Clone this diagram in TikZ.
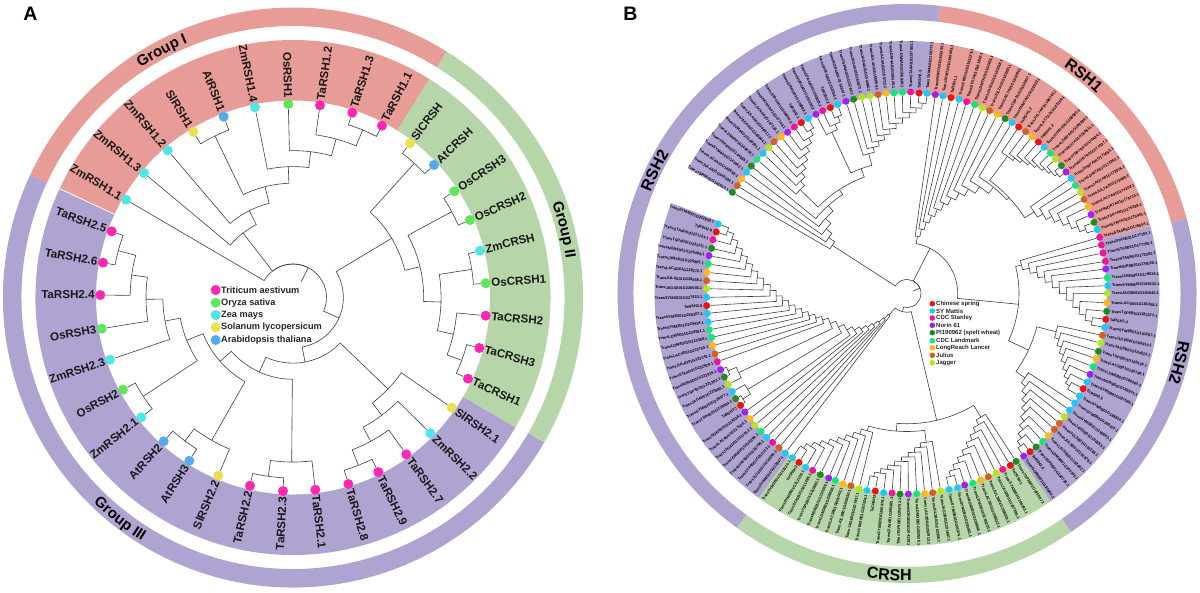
\documentclass[tikz,border=0pt]{standalone}
\usepackage{fontspec}
\setmainfont{Liberation Sans}
\usetikzlibrary{calc,decorations.text}
\pgfdeclarelayer{bandl}\pgfdeclarelayer{tree}
\pgfsetlayers{bandl,tree,main}
\definecolor{bandR}{HTML}{E89C98}
\definecolor{bandG}{HTML}{B6D6A9}
\definecolor{bandV}{HTML}{AEA3D1}
\definecolor{ata}{HTML}{FF26B4}
\definecolor{aos}{HTML}{5FE65A}
\definecolor{azm}{HTML}{4FE6E6}
\definecolor{asl}{HTML}{E8E050}
\definecolor{aat}{HTML}{55AAEE}
\definecolor{cR}{HTML}{F01010}
\definecolor{cC}{HTML}{1EC8F5}
\definecolor{cP}{HTML}{F0149B}
\definecolor{cV}{HTML}{A020F0}
\definecolor{cD}{HTML}{1E8C1E}
\definecolor{cG}{HTML}{14E678}
\definecolor{cO}{HTML}{FFB914}
\definecolor{cB}{HTML}{D2601E}
\definecolor{cL}{HTML}{B4E61E}
\tikzset{
 x=1pt,y=1pt,
 branch/.style={draw=black!75,line width=0.6pt},
 adot/.style={circle,inner sep=0pt,minimum size=10pt},
 bdot/.style={circle,inner sep=0pt,minimum size=7pt},
 alab/.style={inner sep=0pt,font=\fontsize{11.6}{12}\selectfont\bfseries,text=black!90},
 blab/.style={inner sep=0pt,font=\fontsize{3.9}{4}\selectfont\bfseries,text=black},
 alegend/.style={inner sep=0pt,anchor=west,font=\fontsize{9.2}{10}\selectfont\bfseries,text=black!85},
 blegend/.style={inner sep=0pt,anchor=west,font=\fontsize{6}{7}\selectfont\bfseries,text=black!85},
 panel/.style={inner sep=0pt,font=\fontsize{19.5}{20}\selectfont\bfseries},
}
% polar edge: arc on the parent's radius round (C), then radial to the child
\newcommand\pe[2]{\draw[branch] let \p1=($(#2)-(C)$),\p2=($(#1)-(C)$),\n1={atan2(\y1,\x1)},\n2={atan2(\y2,\x2)},\n3={veclen(\x2,\y2)},\n4={\n2+mod(\n1-\n2+540,360)-180} in (#1) arc[start angle=\n2,end angle=\n4,radius=\n3] -- (#2);}
\newcommand\sector[5]{\fill[#5,shift={(C)}] (#3:#2) arc[start angle=#3,end angle=#4,radius=#2] -- (#4:#1) arc[start angle=#4,end angle=#3,radius=#1] -- cycle;}
\newcommand\ringtext[5]{\path[shift={(C)},decorate,decoration={text along path,text align=center,text={|\fontsize{#4}{#4}\selectfont\bfseries|#5}}] (#2:#1) arc[start angle=#2,end angle=#3,radius=#1];}
\newcommand\co[3]{\coordinate (#1) at (#2,-#3);}
% ladders of panel B
\newcount\ladn
\newcommand\mknode[3]{\coordinate (#1) at ($(C)+(#2:#3)$);\expandafter\xdef\csname A@#1\endcsname{#2}}
\newcommand\ladder[4]{%
 \global\ladn=0
 \foreach \e in {#4}{\global\advance\ladn by 1 \expandafter\xdef\csname E@\the\ladn\endcsname{\e}}%
 \edef\lastel{\csname E@\the\ladn\endcsname}%
 \xdef\curname{\lastel}%
 \xdef\curang{\csname A@\lastel\endcsname}%
 \edef\lnn{\the\ladn}%
 \pgfmathtruncatemacro\nm{\lnn-1}%
 \foreach \m in {\nm,...,1}{%
   \pgfmathsetmacro\rr{#2+(#3-#2)*(\m-1)/max(1,\lnn-2)}%
   \edef\el{\csname E@\m\endcsname}%
   \pgfmathsetmacro\nodeang{(\csname A@\el\endcsname+\curang)/2}%
   \mknode{#1-\m}{\nodeang}{\rr}%
   \pe{#1-\m}{\el}%
   \pe{#1-\m}{\curname}%
   \xdef\curname{#1-\m}\xdef\curang{\nodeang}%
 }%
 \coordinate (#1) at (#1-1);%
 \expandafter\xdef\csname A@#1\endcsname{\curang}%
}
% leaves of panel B
\newcount\bi \newcount\rshone \newcount\rshtwo \newcount\crsh
\def\preC{TraesSYM}\def\preP{TraesSTA}\def\preV{TraesNOR}\def\preD{TraesTSP}
\def\preG{TraesLDM}\def\preO{TraesLAC}\def\preB{TraesJUL}\def\preL{TraesJAG}
\newcommand\bleaves[3]{%
 \foreach \zx/\zy/\cc in {#3}{%
  \global\advance\bi by 1
  \pgfmathsetmacro\lx{#1+\zx/3}%
  \pgfmathsetmacro\ly{#2+\zy/3}%
  \node[bdot,fill=c\cc] (b\the\bi) at (\lx,-\ly) {};%
  \pgfmathsetmacro\ang{atan2(293.5-\ly,\lx-907)}%
  \pgfmathsetmacro\ua{\ang>155?\ang-360:\ang}%
  \expandafter\xdef\csname A@b\the\bi\endcsname{\ua}%
  \ifnum\bi<30 \def\chr{4A}\else\ifnum\bi<58 \def\chr{7A}\else\ifnum\bi<89 \def\chr{5B}\else\ifnum\bi<119 \def\chr{3B}\else\def\chr{4D}\fi\fi\fi\fi
  \edef\gn{\the\numexpr141000+\bi*613\relax}%
  \if R\cc
    \ifnum\bi>29 \ifnum\bi<58 \global\advance\rshone by 1 \xdef\lbl{TaRSH1.\the\rshone}\else
      \ifnum\bi>88 \ifnum\bi<119 \global\advance\crsh by 1 \xdef\lbl{TaCRSH\the\crsh}\else
        \global\advance\rshtwo by 1 \xdef\lbl{TaRSH2.\the\rshtwo}\fi
      \else \global\advance\rshtwo by 1 \xdef\lbl{TaRSH2.\the\rshtwo}\fi\fi
    \else \global\advance\rshtwo by 1 \xdef\lbl{TaRSH2.\the\rshtwo}\fi
  \else
    \xdef\lbl{\csname pre\cc\endcsname\chr01G\gn.1}%
  \fi
  \pgfmathsetmacro\ct{cos(\ang)>=0?1:0}%
  \pgfmathsetmacro\flip{\ang+180}%
  \ifdim\ct pt>0.5pt
   \node[blab,rotate=\ang,anchor=west] (bl\the\bi) at ($(b\the\bi)+(\ang:4.3)$) {\lbl};%
  \else
   \node[blab,rotate=\flip,anchor=east] (bl\the\bi) at ($(b\the\bi)+(\ang:4.3)$) {\lbl};%
  \fi
 }%
}
\begin{document}
\begin{tikzpicture}
\begin{pgfonlayer}{bandl}
\fill[white] (0,0) rectangle (1200,-592);
\end{pgfonlayer}
\useasboundingbox (0,0) rectangle (1200,-592);
\node[panel] (pa) at (30.5,-14) {A};
\node[panel] (pb) at (630.5,-13.5) {B};
%%%%%%%%%%%%%%% PANEL A %%%%%%%%%%%%%%%
\coordinate (C) at (293,-297.5);
\begin{pgfonlayer}{bandl}
\sector{271.5}{290}{58}{155}{bandR}
\sector{271.5}{290}{-30}{58}{bandG}
\sector{271.5}{290}{155}{330}{bandV}
\sector{197}{257.5}{58}{155}{bandR}
\sector{197}{257.5}{-30.3}{58}{bandG}
\sector{197}{257.5}{155}{329.7}{bandV}
\draw[white,line width=0.8pt,shift={(C)}] (155:197) -- (155:257.5);
\end{pgfonlayer}
\ringtext{275.6}{140}{96}{15}{Group I}
\ringtext{275.6}{34}{-6}{15}{Group II}
\ringtext{286.4}{210}{254}{15}{Group III}
\foreach \n/\lx/\ly/\cc/\lab in {
 zmo/126/199.7/azm/ZmRSH1.1, zmt/144/173/azm/ZmRSH1.3, zmb/167.7/150.3/azm/ZmRSH1.2,
 slo/193.3/131.7/asl/SlRSH1, ato/223.7/116.7/aat/AtRSH1, zmf/255/107.3/azm/ZmRSH1.4,
 oso/288.3/104/aos/OsRSH1, tab/320/105.3/ata/TaRSH1.2, tat/352.3/112.7/ata/TaRSH1.3,
 tao/382/125.7/ata/TaRSH1.1, slc/410/143.3/asl/SlCRSH, atc/434/165/aat/AtCRSH,
 osct/454.3/191.3/aos/OsCRSH3, oscb/470/220/aos/OsCRSH2, zmc/480/250.7/azm/ZmCRSH,
 osco/485.7/283.3/aos/OsCRSH1, tacb/485.7/315.7/ata/TaCRSH2, tact/479.3/348/ata/TaCRSH3,
 taco/468/378.7/ata/TaCRSH1, slwo/451.7/407.7/asl/SlRSH2.1, zmwb/430.3/433.3/azm/ZmRSH2.2,
 taws/406.3/454.3/ata/TaRSH2.7, tawn/378.3/472/ata/TaRSH2.9, tawe/348.3/484/ata/TaRSH2.8,
 tawo/315.3/489.7/ata/TaRSH2.1, tawt/283/491/ata/TaRSH2.3, tawb/250/485.7/ata/TaRSH2.2,
 slwb/218.3/475.7/asl/SlRSH2.2, atwt/189.3/460.7/aat/AtRSH3, atwb/163.7/441.3/aat/AtRSH2,
 zmwo/141.3/417.3/azm/ZmRSH2.1, oswb/123/389.7/aos/OsRSH2, zmwt/110/359.7/azm/ZmRSH2.3,
 oswt/101.7/328.7/aos/OsRSH3, tawf/100.3/295/ata/TaRSH2.4, tawx/103/262.7/ata/TaRSH2.6,
 tawv/111.7/231.3/ata/TaRSH2.5}{
 \node[adot,fill=\cc] (\n) at (\lx,-\ly) {};
 \pgfmathsetmacro\ang{atan2(297.5-\ly,\lx-293)}
 \pgfmathsetmacro\flip{\ang+180}
 \pgfmathsetmacro\ct{cos(\ang)>=0?1:0}
 \ifdim\ct pt>0.5pt
  \node[alab,rotate=\ang,anchor=west] (\n-l) at ($(\n)+(\ang:5.5)$) {\lab};
 \else
  \node[alab,rotate=\flip,anchor=east] (\n-l) at ($(\n)+(\ang:5.5)$) {\lab};
 \fi
}
% internal points of tree A
\co{rs}{301}{282}\co{ra}{293}{264}
\co{na}{243}{233}\co{nb}{249.3}{210.7}\co{nc}{265}{186.7}\co{nd}{215}{136}\co{ne}{288.3}{166.7}
\co{nf}{310.7}{151.7}\co{ng}{336}{139}\co{nh}{362.7}{130}
\co{m}{339}{318}\co{nt}{391.7}{238.3}\co{so}{414.3}{163.3}\co{p}{420}{266.7}\co{oo}{451.7}{211.7}
\co{q}{441}{302}\co{zo}{471.7}{269.3}\co{s}{453.3}{334.3}\co{t}{461.7}{360.3}
\co{u}{305}{362}\co{v}{259.3}{372}\co{w}{220}{361.3}\co{xx}{291.7}{462}\co{xo}{268.3}{476.3}
\co{wo}{186.7}{340.3}\co{wt}{211.7}{440.3}\co{wh}{185}{441}\co{wf}{143.3}{396.3}\co{wv}{165}{321}
\co{wx}{146}{299.3}\co{ws}{131.7}{275}\co{we}{118.3}{250.7}
\co{yy}{388}{389}\co{yt}{381.7}{415.3}\co{yh}{370.7}{441.3}\co{yf}{358.3}{465.3}
\begin{pgfonlayer}{tree}
\foreach \a/\b in {ra/rs,ra/zmo,ra/na,ra/m,na/zmt,na/nb,nb/zmb,nb/nc,nc/nd,nc/ne,nd/slo,nd/ato,
 ne/zmf,ne/nf,nf/oso,nf/ng,ng/tab,ng/nh,nh/tat,nh/tao,
 m/nt,m/u,nt/so,nt/p,so/slc,so/atc,p/oo,p/q,oo/osct,oo/oscb,q/zo,q/s,zo/zmc,zo/osco,
 s/tacb,s/t,t/tact,t/taco,
 u/v,u/yy,v/w,v/xx,xx/xo,xx/tawo,xo/tawb,xo/tawt,
 w/wo,w/wt,wt/slwb,wt/wh,wh/atwb,wh/atwt,wo/wf,wo/wv,wf/oswb,wf/zmwo,
 wv/zmwt,wv/wx,wx/oswt,wx/ws,ws/tawf,ws/we,we/tawv,we/tawx,
 yy/slwo,yy/yt,yt/zmwb,yt/yh,yh/taws,yh/yf,yf/tawe,yf/tawn}{\pe{\a}{\b}}
\end{pgfonlayer}
% legend A
\foreach \n/\ly/\cc/\lab in {lat/290/ata/Triticum aestivum,los/302.7/aos/Oryza sativa,lzm/315/azm/Zea mays,
 lsl/327.3/asl/Solanum lycopersicum,laa/340/aat/Arabidopsis thaliana}{
 \node[adot,fill=\cc] (\n) at (215.7,-\ly) {};
 \node[alegend] (\n-t) at (221,-\ly) {\lab};
}
%%%%%%%%%%%%%%% PANEL B %%%%%%%%%%%%%%%
\coordinate (C) at (907,-293.5);
\begin{pgfonlayer}{bandl}
\sector{273.5}{289.5}{15}{83.5}{bandR}
\sector{273.5}{289.5}{-55.5}{15}{bandV}
\sector{273.5}{289.5}{-126}{-55.5}{bandG}
\sector{273.5}{289.5}{83.5}{234}{bandV}
\sector{200}{252.5}{84}{150.3}{bandV}
\sector{200}{252.5}{15.5}{84}{bandR}
\sector{200}{252.5}{-55.4}{15.5}{bandV}
\sector{200}{252.5}{-126}{-55.4}{bandG}
\sector{200}{252.5}{159}{234}{bandV}
\end{pgfonlayer}
\ringtext{275.8}{174}{134}{16}{RSH2}
\ringtext{275.8}{71}{31}{16}{RSH1}
\ringtext{275.8}{5.8}{-34.2}{16}{RSH2}
\ringtext{287}{-113.6}{-73.6}{16}{CRSH}
\global\bi=0
\bleaves{620}{0}{337/577/D,352/557/B,365/537/O,380/516/C,394/498/D,411/478/G,429/460/C,447/443/L,462/425/B,483/410/O,503/397/V,523/381/P,544/368/R,565/356/C,588/343/V,608/332/P,631/323/R,653/314/C,678/304/V,701/298/D,725/292/L,750/288/L,774/284/B,798/280/O,822/279/G,847/277/G}
\bleaves{900}{0}{32/276/P,57/279/R,81/280/C,106/284/V,129/288/C,153/293/R,177/298/C,200/305/P,224/314/G,247/323/L,269/332/B,292/343/O,315/356/D,336/368/C,356/381/R,377/395/B,396/410/O,415/426/R,432/442/C,451/460/G,466/478/L,484/497/D,498/516/V,513/535/C,526/556/G,541/577/L,552/598/B,564/621/O,573/644/V,582/667/D,591/689/C,599/712/P,604/735/P,609/759/P,616/784/P,617/807/V,622/833/G,623/857/C,622/880/L}
\bleaves{900}{292}{620/32/O,620/58/D,617/82/R,614/106/C,607/130/B,602/153/L,595/178/D,588/200/O,579/224/G,570/247/V,561/270/C,549/290/R,538/312/C,524/333/C,508/354/C,493/374/L,478/394/B,463/412/B,445/431/O,428/448/G,408/465/D,390/479/R,371/492/V,348/508/D,331/520/R,308/532/P,288/543/L,265/554/B,242/564/O,218/573/G,194/579/V,173/587/C,147/592/C,122/597/L,98/602/B,74/604/O,50/605/G,25/606/V,0/606/D}
\bleaves{620}{292}{816/603/P,791/602/C,766/597/R,741/595/C,717/590/L,693/581/B,669/576/O,646/565/G,626/558/V,601/548/D,578/535/P,557/526/C,537/511/R,517/497/C,496/483/C,477/467/B,458/451/P,440/436/C,423/418/G,405/400/L,390/380/O,375/360/V,362/340/R,347/320/D,337/299/C,325/277/L,313/255/D,302/233/V,292/209/P,285/186/B,278/161/O,275/136/G,268/113/G,265/90/C,262/64/C,260/41/R,260/16/C}
\bleaves{620}{0}{260/866/L,260/842/B,261/817/O,265/792/G,267/767/V,275/745/D,279/719/P,289/696/R,295/672/C}
\begin{pgfonlayer}{tree}
% upper purple clade
\ladder{Uc}{149}{190}{b6,b7,b8,b9,b10,b11,b12,b13,b14}
\ladder{Uf}{178}{190}{b15,b16,b17,b18}
\ladder{Us}{145}{191}{b19,b20,b21,b22,b23,b24,b25,b26,b27,b28,b29}
\ladder{Ud}{133}{133}{Uf,Us}
\ladder{Ub}{124}{124}{Uc,Ud}
\ladder{Ua}{89}{118}{b1,b2,b3,b4,b5,Ub}
% RSH1 clade
\ladder{Ka}{170}{192}{b41,b42,b43,b44,b45,b46,b47,b48,b49}
\ladder{Kb}{151}{190}{b50,b51,b52,b53,b54,b55,b56,b57}
\ladder{Kk}{140}{140}{Ka,Kb}
\ladder{Ma}{58}{137}{b30,b31,b32,b33,b34,b35,b36,b37,b38,b39,b40,Kk}
% right purple clade
\ladder{Ra}{118}{187}{b58,b59,b60,b61,b62,b63,b64,b65,b66,b67,b68,b69}
\ladder{Lb}{154}{187}{b70,b71,b72,b73,b74,b75,b76,b77,b78}
\ladder{Lc}{145}{190}{b79,b80,b81,b82,b83,b84,b85,b86,b87,b88}
\ladder{Zz}{134}{134}{Lb,Lc}
\ladder{Xx}{112}{112}{Ra,Zz}
% green clade
\ladder{Gr}{144}{188}{b89,b90,b91,b92,b93,b94,b95,b96,b97,b98}
\ladder{Cg}{150}{186}{b99,b100,b101,b102,b103,b104,b105,b106,b107,b108}
\ladder{Lg}{143}{186}{b109,b110,b111,b112,b113,b114,b115,b116,b117,b118}
\ladder{Gl}{138}{138}{Lg,Cg}
% lower-left clade
\ladder{Sa}{186}{195}{b129,b128,b127}
\ladder{Sb}{186}{195}{b130,b131,b132}
\ladder{Lm}{144}{190}{b142,b143,b144,b145,b146,b147,b148,b149,b150}
\ladder{Ll}{28}{137}{b119,b120,b121,b122,b123,b124,b125,b126,Sa,Sb,b133,b134,b135,b136,b137,b138,b139,b140,b141,Lm}
% backbone
\coordinate (Ww) at (936.7,-420.3);
\coordinate (Tt) at (930,-248.3);
\coordinate (Bl) at (902.5,-311.7);
\coordinate (Rb) at (920,-288.3);
\coordinate (Rs) at (913,-291);
\pe{Ww}{Gl}\pe{Ww}{Gr}
\pe{Bl}{Ll}\pe{Bl}{Ww}
\pe{Tt}{Ma}\pe{Tt}{Xx}
\pe{Rb}{Rs}\pe{Rb}{Ua}\pe{Rb}{Tt}\pe{Rb}{Bl}
\end{pgfonlayer}
% legend B
\foreach \n/\ly/\cc/\lab in {lb/303.7/R/Chinese spring,lc/311/C/SY Mattis,ld/318/P/CDC Stanley,le/325.3/V/Norin 61,lf/332.7/D/PI190962 (spelt wheat),lg/340.7/G/CDC Landmark,lh/347.7/O/LongReach Lancer,li/355.3/B/Julius,lj/362.7/L/Jagger}{
 \node[bdot,minimum size=5.6pt,fill=c\cc] (\n) at (932.3,-\ly) {};
 \node[blegend] (\n-t) at (936,-\ly) {\lab};
}
\end{tikzpicture}
\end{document}
